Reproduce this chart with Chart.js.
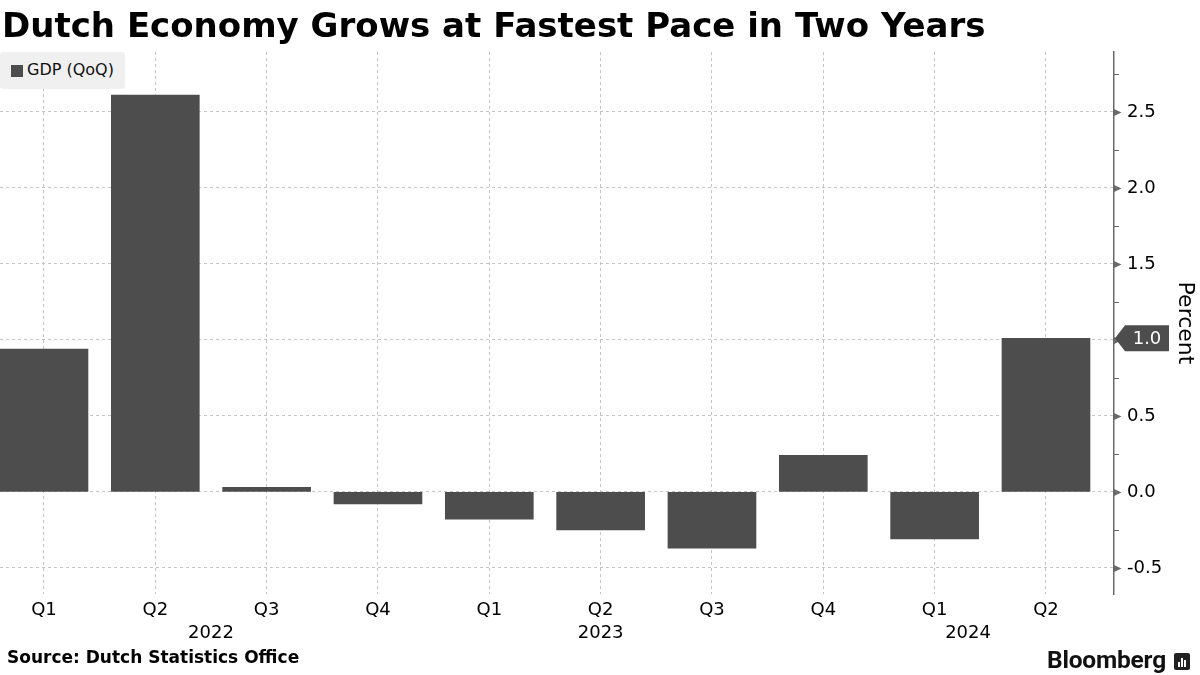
<!DOCTYPE html>
<html lang="en">
<head>
    <meta charset="UTF-8">
    <title>Dutch Economy Grows at Fastest Pace in Two Years</title>
    <script src="https://cdn.jsdelivr.net/npm/chart.js"></script>
    <style>
        body {
            margin: 0;
            background: #fff;
            font-family: "DejaVu Sans", sans-serif;
        }
        .wrap {
            position: relative;
            width: 1200px;
            height: 675px;
            overflow: hidden;
        }
        #gdpChart {
            position: absolute;
            left: 0;
            top: 0;
        }
        .title {
            position: absolute;
            left: 2px;
            top: 8px;
            font-size: 34px;
            line-height: 1;
            font-weight: bold;
            color: #000;
            white-space: nowrap;
        }
        .legend {
            position: absolute;
            left: 0;
            top: 52px;
            width: 125px;
            height: 37px;
            background: #f0f0f0;
            border-radius: 3px;
            font-size: 16px;
            color: #111;
        }
        .legend .swatch {
            position: absolute;
            left: 11px;
            top: 13px;
            width: 12px;
            height: 12px;
            background: #4d4d4d;
        }
        .legend .text {
            position: absolute;
            left: 27px;
            top: 10px;
            line-height: 1;
            white-space: nowrap;
        }
        .source {
            position: absolute;
            left: 7px;
            top: 649px;
            font-size: 17px;
            line-height: 1;
            font-weight: bold;
            color: #000;
        }
        .brand {
            position: absolute;
            left: 1047px;
            top: 648px;
            font-family: Roboto, sans-serif;
            font-weight: bold;
            font-size: 24.5px;
            line-height: 1;
            letter-spacing: -0.2px;
            color: #111;
        }
        .brand-icon {
            position: absolute;
            left: 1174px;
            top: 653px;
            width: 16px;
            height: 17px;
            background: #222;
            border-radius: 2px;
        }
        .brand-icon span {
            position: absolute;
            bottom: 3px;
            width: 2px;
            background: #fff;
        }
    </style>
</head>
<body>
    <div class="wrap">
        <canvas id="gdpChart" width="1200" height="675"></canvas>
        <div class="title">Dutch Economy Grows at Fastest Pace in Two Years</div>
        <div class="legend"><div class="swatch"></div><div class="text" id="legendText"></div></div>
        <div class="source">Source: Dutch Statistics Office</div>
        <div class="brand">Bloomberg</div>
        <div class="brand-icon">
            <span style="left:4px;height:5px"></span>
            <span style="left:7px;height:9px"></span>
            <span style="left:10px;height:7px"></span>
        </div>
    </div>
    <script>
        // data
        const seriesName = "GDP (QoQ)";
        const quarters = ["Q1", "Q2", "Q3", "Q4", "Q1", "Q2", "Q3", "Q4", "Q1", "Q2"];
        const gdpQoQ = [0.94, 2.61, 0.03, -0.08, -0.18, -0.25, -0.37, 0.24, -0.31, 1.01];
        const years = ["2022", "2023", "2024"];
        const yearTickPos = [1.5, 5.0, 8.3];
        const yTicks = [-0.5, -0.25, 0, 0.25, 0.5, 0.75, 1, 1.25, 1.5, 1.75, 2, 2.25, 2.5, 2.75];

        const barColor = "#4d4d4d";
        const axisColor = "#6a6a6a";
        const gridColor = "#c4c4c4";
        const tickFont = { family: "DejaVu Sans", size: 18 };

        document.getElementById("legendText").textContent = seriesName;

        function isMajor(v) {
            return Math.abs(v * 2 - Math.round(v * 2)) < 1e-6;
        }

        // tick marks on the right axis + the last value callout
        const axisMarks = {
            id: "axisMarks",
            afterDraw(chart) {
                const ctx = chart.ctx;
                const y = chart.scales.y;
                const x0 = chart.chartArea.right;
                ctx.save();
                ctx.fillStyle = axisColor;
                ctx.strokeStyle = axisColor;
                ctx.lineWidth = 1;
                y.ticks.forEach(t => {
                    const py = Math.round(y.getPixelForValue(t.value)) + 0.5;
                    if (isMajor(t.value)) {
                        ctx.beginPath();
                        ctx.moveTo(x0, py - 3.5);
                        ctx.lineTo(x0 + 7.5, py);
                        ctx.lineTo(x0, py + 3.5);
                        ctx.closePath();
                        ctx.fill();
                    } else {
                        ctx.beginPath();
                        ctx.moveTo(x0, py);
                        ctx.lineTo(x0 + 5, py);
                        ctx.stroke();
                    }
                });

                const last = gdpQoQ[gdpQoQ.length - 1];
                const cy = y.getPixelForValue(last);
                ctx.fillStyle = barColor;
                ctx.beginPath();
                ctx.moveTo(x0 + 1, cy);
                ctx.lineTo(x0 + 11, cy - 13);
                ctx.lineTo(x0 + 55, cy - 13);
                ctx.lineTo(x0 + 55, cy + 13);
                ctx.lineTo(x0 + 11, cy + 13);
                ctx.closePath();
                ctx.fill();
                ctx.fillStyle = "#fff";
                ctx.font = "18px 'DejaVu Sans'";
                ctx.textAlign = "center";
                ctx.textBaseline = "middle";
                ctx.fillText(last.toFixed(1), x0 + 33, cy + 1);
                ctx.restore();
            }
        };

        const ctx = document.getElementById("gdpChart").getContext("2d");
        new Chart(ctx, {
            type: "bar",
            data: {
                datasets: [{
                    label: seriesName,
                    data: gdpQoQ.map((v, i) => ({ x: i, y: v })),
                    backgroundColor: barColor,
                    barThickness: 88,
                    xAxisID: "x",
                    yAxisID: "y"
                }]
            },
            options: {
                responsive: false,
                animation: false,
                devicePixelRatio: 1,
                layout: { padding: { top: 52, left: 0, right: 0, bottom: 28 } },
                plugins: {
                    legend: { display: false },
                    tooltip: { enabled: false }
                },
                scales: {
                    x: {
                        type: "linear",
                        position: "bottom",
                        bounds: "data",
                        offset: false,
                        min: -0.395,
                        max: 9.611,
                        weight: 0,
                        afterBuildTicks: s => { s.ticks = quarters.map((q, i) => ({ value: i })); },
                        afterFit: s => { s.height = 27; },
                        ticks: {
                            callback: v => quarters[Math.round(v)],
                            font: tickFont,
                            color: "#000",
                            padding: 6,
                            maxRotation: 0,
                            autoSkip: false
                        },
                        grid: { color: gridColor, drawTicks: false, offset: false },
                        border: { display: false, dash: [3, 3] }
                    },
                    x2: {
                        type: "linear",
                        position: "bottom",
                        bounds: "data",
                        offset: false,
                        min: -0.395,
                        max: 9.611,
                        weight: 1,
                        afterBuildTicks: s => { s.ticks = yearTickPos.map(v => ({ value: v })); },
                        afterFit: s => { s.height = 26; },
                        ticks: {
                            callback: (v, i) => years[i],
                            font: tickFont,
                            color: "#000",
                            padding: 2,
                            maxRotation: 0,
                            autoSkip: false
                        },
                        grid: { display: false, drawTicks: false },
                        border: { display: false }
                    },
                    y: {
                        position: "right",
                        bounds: "data",
                        min: -0.672,
                        max: 2.894,
                        afterBuildTicks: s => { s.ticks = yTicks.map(v => ({ value: v })); },
                        afterFit: s => { s.width = 86; },
                        ticks: {
                            callback: v => isMajor(v) ? v.toFixed(1) : "",
                            font: tickFont,
                            color: "#000",
                            padding: 13,
                            autoSkip: false
                        },
                        grid: {
                            color: c => (c.tick && isMajor(c.tick.value)) ? gridColor : "transparent",
                            drawTicks: false
                        },
                        border: { display: true, color: axisColor, width: 1.5, dash: [3, 3] },
                        title: {
                            display: true,
                            text: "Percent",
                            font: { family: "DejaVu Sans", size: 22 },
                            color: "#000",
                            padding: { top: 2, bottom: 0 }
                        }
                    }
                }
            },
            plugins: [axisMarks]
        });
    </script>
</body>
</html>
